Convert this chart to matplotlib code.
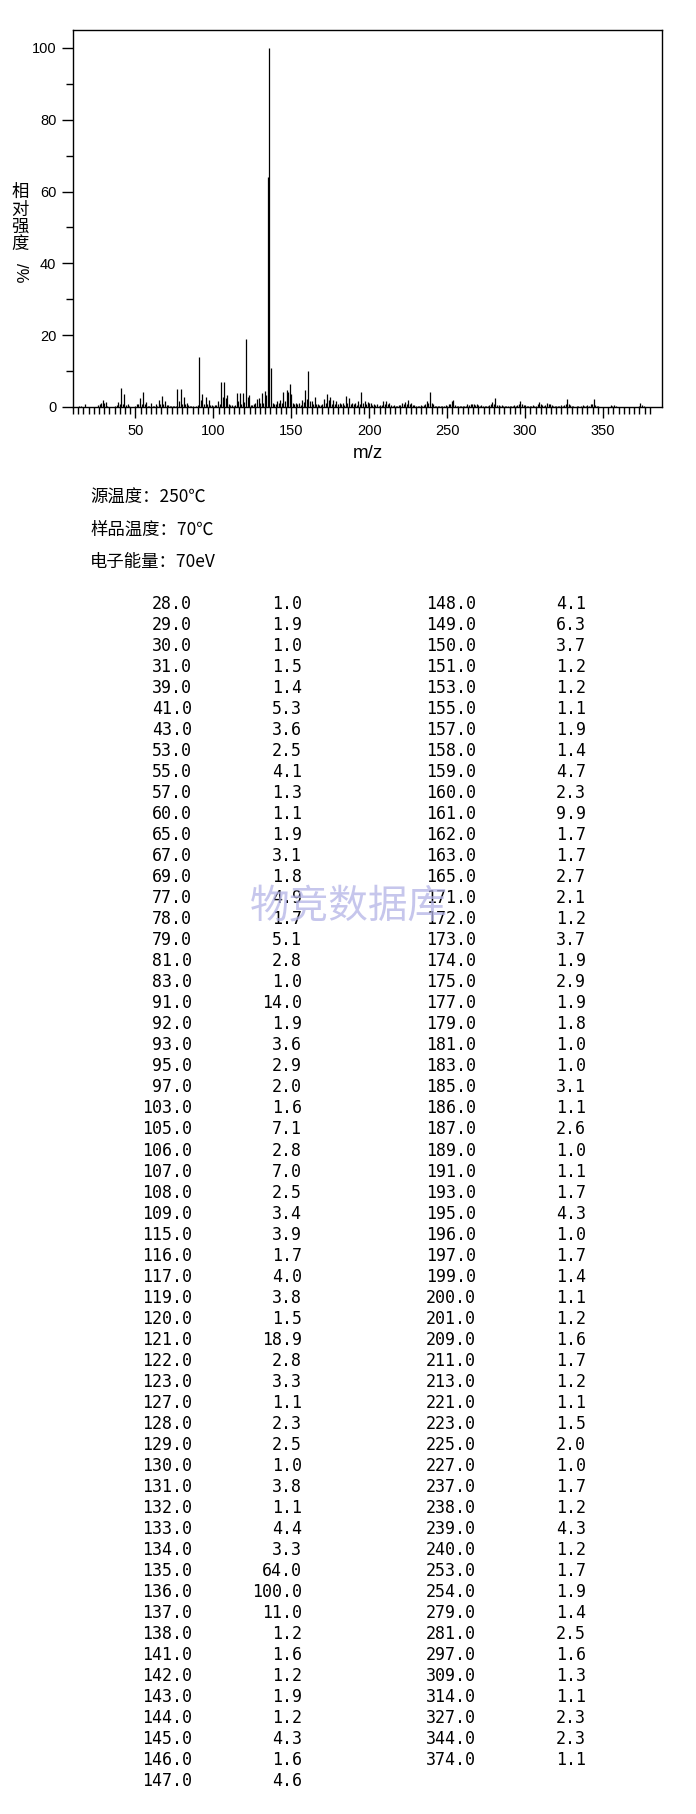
import numpy as np
import matplotlib
matplotlib.use("Agg")
import matplotlib.pyplot as plt


# ============================================================
# DATA (peak list as printed under the spectrum)
# ============================================================
mz_col1 = [28, 29, 30, 31, 39, 41, 43, 53, 55, 57, 60, 65, 67, 69, 77, 78, 79, 81, 83,
           91, 92, 93, 95, 97, 103, 105, 106, 107, 108, 109, 115, 116, 117, 119, 120,
           121, 122, 123, 127, 128, 129, 130, 131, 132, 133, 134, 135, 136, 137, 138,
           141, 142, 143, 144, 145, 146, 147]
int_col1 = [1.0, 1.9, 1.0, 1.5, 1.4, 5.3, 3.6, 2.5, 4.1, 1.3, 1.1, 1.9, 3.1, 1.8, 4.9, 1.7, 5.1, 2.8, 1.0,
            14.0, 1.9, 3.6, 2.9, 2.0, 1.6, 7.1, 2.8, 7.0, 2.5, 3.4, 3.9, 1.7, 4.0, 3.8, 1.5,
            18.9, 2.8, 3.3, 1.1, 2.3, 2.5, 1.0, 3.8, 1.1, 4.4, 3.3, 64.0, 100.0, 11.0, 1.2,
            1.6, 1.2, 1.9, 1.2, 4.3, 1.6, 4.6]

mz_col2 = [148, 149, 150, 151, 153, 155, 157, 158, 159, 160, 161, 162, 163, 165, 171, 172,
           173, 174, 175, 177, 179, 181, 183, 185, 186, 187, 189, 191, 193, 195, 196, 197,
           199, 200, 201, 209, 211, 213, 221, 223, 225, 227, 237, 238, 239, 240, 253, 254,
           279, 281, 297, 309, 314, 327, 344, 374]
int_col2 = [4.1, 6.3, 3.7, 1.2, 1.2, 1.1, 1.9, 1.4, 4.7, 2.3, 9.9, 1.7, 1.7, 2.7, 2.1, 1.2,
            3.7, 1.9, 2.9, 1.9, 1.8, 1.0, 1.0, 3.1, 1.1, 2.6, 1.0, 1.1, 1.7, 4.3, 1.0, 1.7,
            1.4, 1.1, 1.2, 1.6, 1.7, 1.2, 1.1, 1.5, 2.0, 1.0, 1.7, 1.2, 4.3, 1.2, 1.7, 1.9,
            1.4, 2.5, 1.6, 1.3, 1.1, 2.3, 2.3, 1.1]

# small peaks (< 1 %) visible in the plot but not in the printed list (read by eye)
minor_mz = [14, 15, 18, 26, 27, 32, 37, 38, 40, 42, 44, 45, 46, 50, 51, 52, 54, 56, 58, 59,
            61, 62, 63, 64, 66, 68, 70, 71, 72, 73, 74, 75, 76, 80, 82, 84, 85, 86, 87, 89,
            90, 94, 96, 98, 99, 100, 101, 102, 104, 110, 111, 112, 113, 114, 118, 124, 125,
            126, 139, 140, 152, 154, 156, 164, 166, 167, 168, 169, 170, 176, 178, 180, 182,
            184, 188, 190, 192, 194, 198, 202, 203, 204, 205, 206, 207, 208, 210, 212, 214,
            215, 216, 217, 218, 219, 220, 222, 224, 226, 228, 229, 230, 231, 232, 233, 234,
            235, 236, 241, 242, 243, 244, 245, 246, 247, 248, 249, 250, 251, 252, 255, 256,
            257, 258, 259, 260, 261, 262, 263, 264, 265, 266, 267, 268, 269, 270, 271, 272,
            273, 274, 275, 276, 277, 278, 280, 282, 283, 284, 285, 286, 287, 288, 289, 290,
            291, 292, 293, 294, 295, 296, 298, 299, 300, 301, 302, 303, 304, 305, 306, 307,
            308, 310, 311, 312, 313, 315, 316, 317, 318, 319, 320, 321, 322, 323, 324, 325,
            326, 328, 329, 330, 331, 333, 334, 336, 337, 338, 339, 340, 341, 342, 343, 345,
            346, 347, 355, 356, 357, 358, 373, 375, 376]
minor_int = [0.3, 0.4, 0.7, 0.5, 0.9, 0.4, 0.3, 0.6, 0.8, 0.9, 0.6, 0.7, 0.3, 0.4, 0.7, 0.7, 0.8, 0.9, 0.4, 0.4,
             0.3, 0.3, 0.7, 0.4, 0.8, 0.9, 0.5, 0.6, 0.3, 0.4, 0.3, 0.4, 0.3, 0.9, 0.7, 0.5, 0.4, 0.3, 0.2, 0.4,
             0.5, 0.8, 0.7, 0.6, 0.5, 0.4, 0.5, 0.6, 0.9, 0.8, 0.5, 0.5, 0.4, 0.6, 0.9, 0.6, 0.5,
             0.7, 0.8, 0.9, 0.8, 0.7, 0.6, 0.9, 0.8, 0.7, 0.6, 0.6, 0.9, 0.8, 0.9, 0.7, 0.8,
             0.6, 0.9, 0.7, 0.6, 0.8, 0.8, 0.6, 0.7, 0.5, 0.7, 0.4, 0.5, 0.6, 0.8, 0.7, 0.5,
             0.4, 0.5, 0.4, 0.3, 0.5, 0.6, 0.8, 0.9, 0.7, 0.6, 0.5, 0.4, 0.3, 0.4, 0.5, 0.4,
             0.6, 0.9, 0.7, 0.4, 0.3, 0.4, 0.3, 0.4, 0.3, 0.4, 0.5, 0.3, 0.7, 0.9, 0.6, 0.4,
             0.3, 0.4, 0.3, 0.3, 0.4, 0.3, 0.8, 0.6, 0.9, 0.7, 0.8, 0.6, 0.7, 0.5, 0.4, 0.6,
             0.4, 0.3, 0.4, 0.3, 0.5, 0.9, 0.8, 0.6, 0.5, 0.4, 0.5, 0.3, 0.4, 0.3, 0.4, 0.3,
             0.4, 0.4, 0.5, 0.4, 0.6, 0.9, 0.7, 0.5, 0.6, 0.3, 0.4, 0.3, 0.4, 0.5, 0.3, 0.4,
             0.8, 0.7, 0.5, 0.4, 0.6, 0.9, 0.7, 0.5, 0.4, 0.3, 0.4, 0.3, 0.4, 0.5, 0.4, 0.6,
             0.9, 0.7, 0.5, 0.4, 0.3, 0.3, 0.2, 0.3, 0.5, 0.4, 0.3, 0.5, 0.4, 0.8, 0.7, 0.5,
             0.4, 0.3, 0.6, 0.4, 0.5, 0.3, 0.4, 0.5, 0.4]

x_major = [50, 100, 150, 200, 250, 300, 350]
y_major = [0, 20, 40, 60, 80, 100]
y_minor = [10, 30, 50, 70, 90]

info_lines = ["源温度：250℃", "样品温度：70℃", "电子能量：70eV"]
y_label_chars = ["相", "对", "强", "度"]
y_label_unit = "/%"
x_label = "m/z"
watermark = "物竞数据库"


# ============================================================
# LAYOUT HELPERS (pixel -> figure fraction)
# ============================================================
W, H = 696, 1814
CJK = ["Noto Sans CJK SC", "DejaVu Sans"]


def fx(x):
    return x / W


def fy(y):
    return 1 - y / H


fig = plt.figure(figsize=(W / 100, H / 100), dpi=100)
fig.patch.set_facecolor("white")

# ============================================================
# SPECTRUM
# ============================================================
ax = fig.add_axes([fx(73), fy(407), (662 - 73) / W, (407 - 30) / H])

ax.vlines(minor_mz, 0, minor_int, color="black", linewidth=0.9)
ax.vlines(mz_col1 + mz_col2, 0, int_col1 + int_col2, color="black", linewidth=0.9)

ax.set_xlim(10, 387.8)
ax.set_ylim(0, 105)
ax.set_xticks(x_major)
ax.set_xticks(np.arange(10, 381, 10 / 3), minor=True)
ax.set_yticks(y_major)
ax.set_yticks(y_minor, minor=True)

for sp in ax.spines.values():
    sp.set_linewidth(1.0)
    sp.set_color("black")

ax.tick_params(which="major", direction="out", length=8, width=1.0, pad=4,
               labelsize=10.5, colors="black")
ax.tick_params(which="minor", direction="out", length=5, width=1.0)
for lab in ax.get_xticklabels() + ax.get_yticklabels():
    lab.set_family("Liberation Sans")

fig.text(fx(368), fy(453), x_label, ha="center", va="center", fontsize=13.5,
         family="Liberation Sans")

for i, ch in enumerate(y_label_chars):
    fig.text(fx(20), fy(192 + 17.5 * i), ch, ha="center", va="center",
             fontsize=12.5, family=CJK)
fig.text(fx(20), fy(273), y_label_unit, ha="center", va="center", rotation=-90,
         fontsize=12, family="Liberation Sans")

# ============================================================
# CONDITIONS + PEAK TABLE
# ============================================================
for i, line in enumerate(info_lines):
    fig.text(fx(90), fy(498 + 32 * i), line, ha="left", va="center",
             fontsize=12.5, family=CJK)

ROW0, DROW = 604, 21.02
for i, (m, v) in enumerate(zip(mz_col1, int_col1)):
    y = fy(ROW0 + DROW * i)
    fig.text(fx(192), y, f"{m:.1f}", ha="right", va="center", fontsize=12,
             family="DejaVu Sans Mono")
    fig.text(fx(302), y, f"{v:.1f}", ha="right", va="center", fontsize=12,
             family="DejaVu Sans Mono")
for i, (m, v) in enumerate(zip(mz_col2, int_col2)):
    y = fy(ROW0 + DROW * i)
    fig.text(fx(476), y, f"{m:.1f}", ha="right", va="center", fontsize=12,
             family="DejaVu Sans Mono")
    fig.text(fx(586), y, f"{v:.1f}", ha="right", va="center", fontsize=12,
             family="DejaVu Sans Mono")

# watermark over the table
fig.text(fx(349), fy(906), watermark, ha="center", va="center", fontsize=28.5,
         family=CJK, color="#b4b4e6", alpha=0.75, zorder=10)

fig.savefig("out.png", dpi=100, facecolor="white")
plt.close(fig)
